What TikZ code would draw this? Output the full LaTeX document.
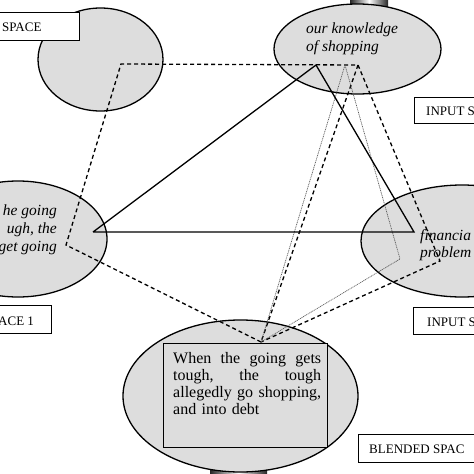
\documentclass[tikz,border=0pt]{standalone}
\usepackage{fontspec}
\setmainfont{Liberation Serif}
\usetikzlibrary{shapes.geometric}
\definecolor{ellgray}{RGB}{221,221,221}
\begin{document}
\begin{tikzpicture}[x=1pt,y=-1pt,
  space/.style={ellipse, draw=black, line width=1.3pt, fill=ellgray, inner sep=0},
  lbox/.style={draw=black, line width=1pt, fill=white},
  lbl/.style={font=\fontsize{13}{15}\selectfont, inner sep=0},
  ital/.style={font=\fontsize{15.5}{18}\selectfont\itshape, inner sep=0},
  link/.style={line width=1.3pt, line join=miter},
  dsh/.style={line width=1.3pt, dash pattern=on 4pt off 3pt},
  dotl/.style={line width=0.7pt, draw=black!65, dash pattern=on 1pt off 0.8pt}]
\useasboundingbox (0,0) rectangle (474,474);
% dark blobs at the edges
\shade[left color=black!85, right color=black!85, middle color=white] (350,-2) rectangle (388,8);
\shade[left color=black!85, right color=black!85, middle color=white] (210,466) rectangle (267,476);
% spaces
\node[space, minimum width=125, minimum height=103] (generic) at (100.5,59.5) {};
\node[space, minimum width=167, minimum height=90] (input2) at (357.5,49) {};
\node[space, minimum width=178, minimum height=116] (input1) at (18,239) {};
\node[space, minimum width=202, minimum height=112] (input3) at (462,241) {};
\node[space, minimum width=235, minimum height=152] (blend) at (240.5,396) {};
\node[draw=black, line width=1.2pt, fill=ellgray, minimum width=164, minimum height=104, anchor=north west, inner sep=0] (blendbox) at (163,343) {};
% texts in spaces
\node[ital, anchor=north west, align=left] (t2) at (306,22.5) {our knowledge\\of shopping};
\node[ital, anchor=north east, align=right] (t1) at (57,205) {he going\\ugh, the\\get going};
\node[ital, anchor=north west, align=left, font=\fontsize{15.5}{17}\selectfont\itshape] (t3) at (420,229) {financia\\problem};
\node[anchor=north west, inner sep=0, text width=148pt, align=left, font=\fontsize{16}{17}\selectfont] (tb) at (173,352)
  {When\hfill the\hfill going\hfill gets\\tough,\hfill the\hfill tough\\allegedly\hfill go\hfill shopping,\\and into debt};
% corner points
\coordinate (A) at (121,64);
\coordinate (B) at (358,65);
\coordinate (C) at (440,261);
\coordinate (D) at (261,342);
\coordinate (E) at (66,245);
\coordinate (F) at (345,65);
\coordinate (G) at (400,259);
\coordinate (L) at (93,232);
\coordinate (T) at (316,65);
\coordinate (R) at (414,232);
% dashed mapping
\draw[dsh] (D) -- (E) -- (A) -- (B) -- (D);
\draw[dsh] (B) -- (C) -- (D);
% dotted mapping
\draw[dotl] (D) -- (F) -- (G) -- (D);
% solid cross-space mapping
\draw[link] (L) -- (T) -- (R) -- (L);
% labels
\draw[lbox] (-2,12) rectangle (79,40);
\node[lbl, anchor=base west] (lg) at (2,31) {SPACE};
\draw[lbox] (414,97) rectangle (476,123);
\node[lbl, anchor=base west] (li2) at (426,115.5) {INPUT S};
\draw[lbox] (-2,305) rectangle (51,333);
\node[lbl, anchor=base west] (li1) at (-2,325) {ACE 1};
\draw[lbox] (413,307) rectangle (476,334);
\node[lbl, anchor=base west] (li3) at (427,326) {INPUT S};
\draw[lbox] (358,434) rectangle (476,462);
\node[lbl, anchor=base west] (lb) at (369,453) {BLENDED SPAC};
\end{tikzpicture}
\end{document}
